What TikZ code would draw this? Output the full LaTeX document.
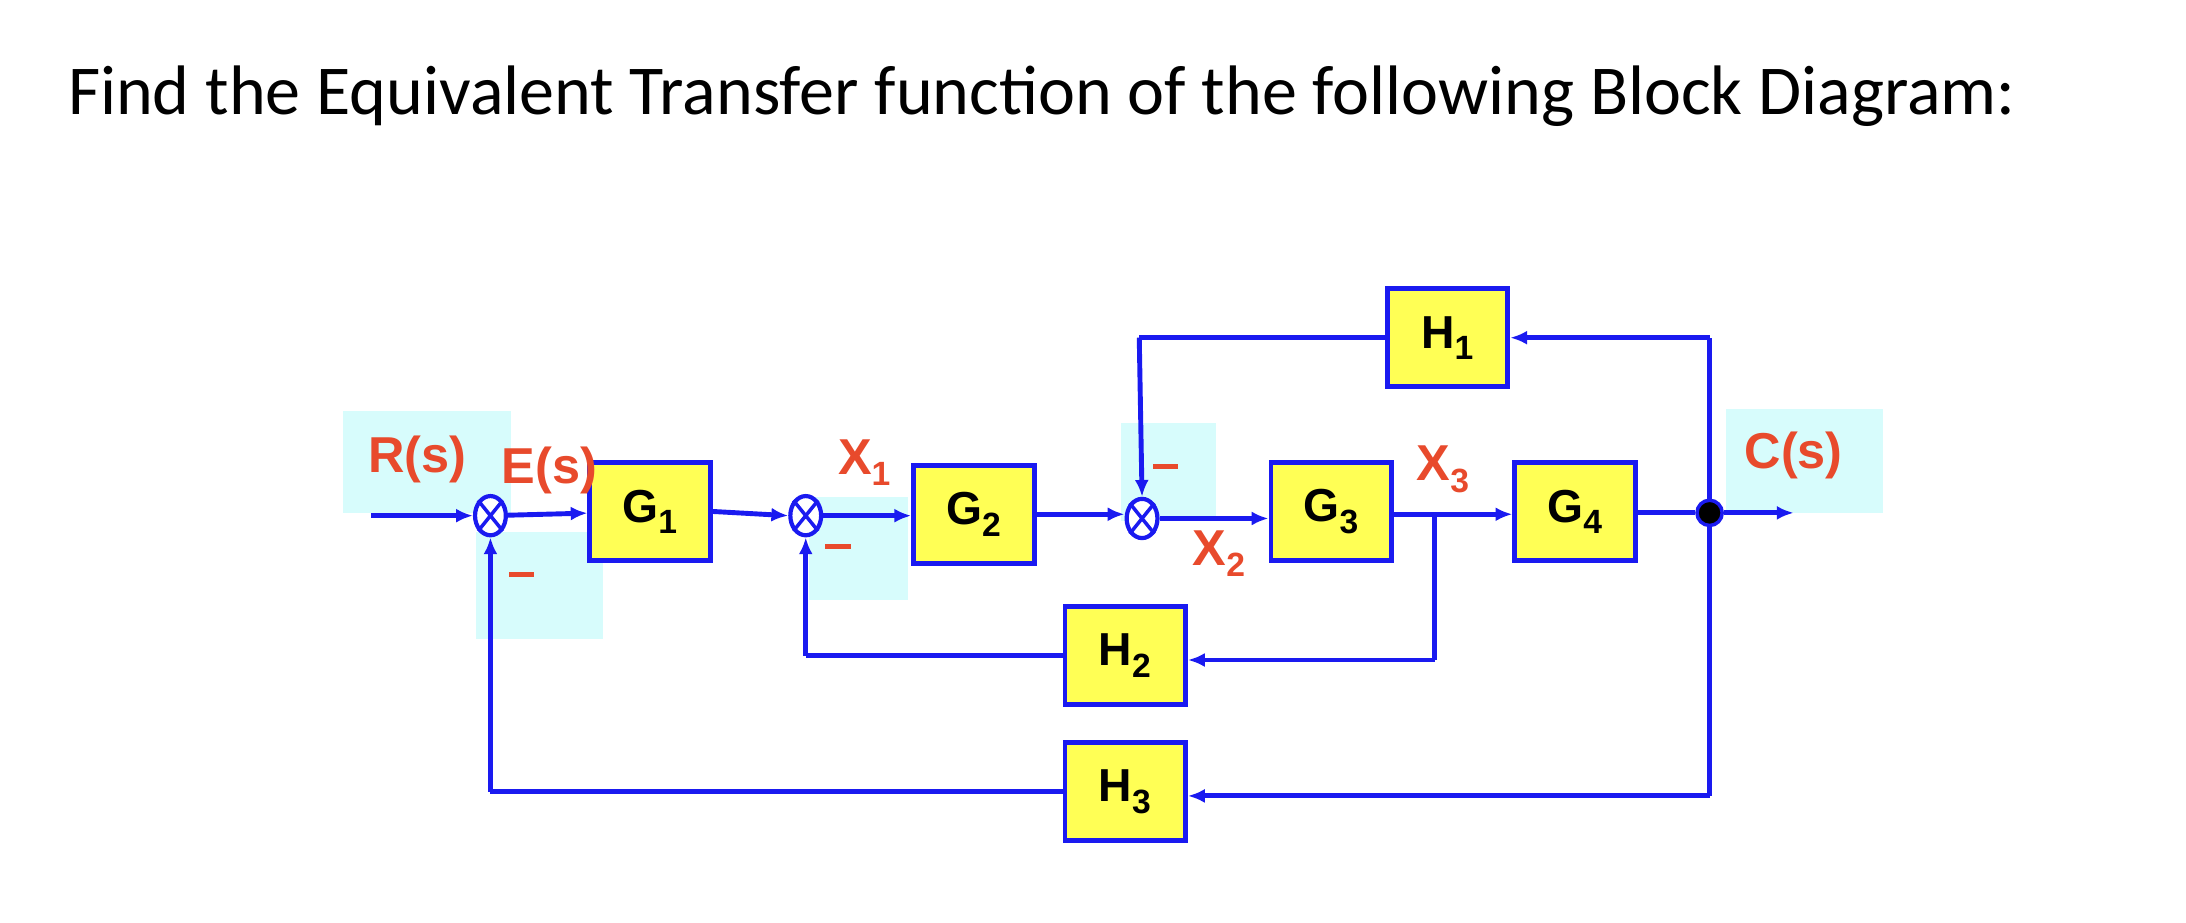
\documentclass[tikz,border=0pt]{standalone}
\usepackage{fontspec}
\setmainfont{Carlito}
\newfontfamily\arialf{Liberation Sans}
\usetikzlibrary{arrows.meta,shapes.geometric}
\definecolor{lb}{HTML}{1A1AF0}
\definecolor{yl}{HTML}{FFFF55}
\definecolor{cy}{HTML}{D7FCFC}
\definecolor{og}{HTML}{E84A2C}
\tikzset{
 blk/.style={draw=lb,line width=3.5pt,fill=yl,minimum width=86pt,minimum height=70pt,inner sep=0pt,font=\arialf\bfseries\fontsize{33}{33}\selectfont},
 sig/.style={og,font=\arialf\bfseries\fontsize{36}{36}\selectfont},
 ln/.style={lb,line width=3.5pt},
 ar/.style={ln,-{Latex[length=12pt,width=10pt]}},
 sumj/.style={draw=lb,line width=3pt,fill=white,ellipse,minimum width=22pt,minimum height=28pt,inner sep=0pt},
 minus/.style={fill=og,minimum width=18pt,minimum height=3.5pt,inner sep=0pt}
}
\newcommand{\sumx}[1]{\draw[lb,line width=2.5pt] (#1.north west)--(#1.south east) (#1.north east)--(#1.south west);}
\newcommand{\sbs}[1]{$_{\hbox{\fontsize{24}{24}\selectfont #1}}$}
\begin{document}
\begin{tikzpicture}[x=1pt,y=-1pt]
\useasboundingbox (0,0) rectangle (1560,658);
\node[anchor=base west,font=\fontsize{50}{50}\selectfont] (title) at (45,82) {Find the Equivalent Transfer function of the following Block Diagram:};
% highlights
\fill[cy] (245,293) rectangle (365,366);
\fill[cy] (340,380) rectangle (430,456);
\fill[cy] (577,355) rectangle (648,428);
\fill[cy] (800,302) rectangle (868,372);
\fill[cy] (1232,292) rectangle (1344,366);
% blocks
\node[blk] (G1) at (464,365) {G\sbs{1}};
\node[blk] (G2) at (695,367) {G\sbs{2}};
\node[blk] (G3) at (950,365) {G\sbs{3}};
\node[blk] (G4) at (1124,365) {G\sbs{4}};
\node[blk] (H1) at (1033,241) {H\sbs{1}};
\node[blk] (H2) at (803,468) {H\sbs{2}};
\node[blk] (H3) at (803,565) {H\sbs{3}};
% sums
\node[sumj] (S1) at (350,368) {};
\node[sumj] (S2) at (575,368) {};
\node[sumj] (S3) at (815,370) {};
\sumx{S1}\sumx{S2}\sumx{S3}
\coordinate (in) at (265,368);
\coordinate (out) at (1280,366);
\node[circle,fill=black,draw=lb,line width=2.5pt,minimum size=18pt,inner sep=0pt] (J) at (1220,366) {};
\coordinate (b3) at (1024,367);
% forward
\draw[ar] (in) -- (S1);
\draw[ar] (S1) -- (G1);
\draw[ar] (G1.east) -- (S2.west);
\draw[ar] (S2) -- (G2.west|-S2);
\draw[ar] (G2) -- (S3.west|-G2);
\draw[ar] (S3) -- (G3.west|-S3);
\draw[ar] (G3.east|-b3) -- (G4.west|-b3);
\draw[ln] (G4.east|-J) -- (J);
\draw[ar] (J) -- (out);
% feedback H1
\coordinate (h1r) at (1220,241);
\coordinate (h1l) at (813,241);
\draw[ln] (J) -- (h1r);
\draw[ar] (h1r) -- (H1.east);
\draw[ln] (H1.west) -- (h1l);
\draw[ar] (h1l) -- (S3.north);
% H2
\coordinate (b3d) at (1024,471);
\coordinate (h2l) at (575,468);
\draw[ln] (b3) -- (b3d);
\draw[ar] (b3d) -- (H2.east|-b3d);
\draw[ln] (H2.west) -- (h2l);
\draw[ar] (h2l) -- (S2.south);
% H3
\coordinate (jd) at (1220,568);
\coordinate (h3l) at (350,565);
\draw[ln] (J) -- (jd);
\draw[ar] (jd) -- (H3.east|-jd);
\draw[ln] (H3.west) -- (h3l);
\draw[ar] (h3l) -- (S1.south);
% labels
\node[sig] (lR) at (298,328) {R(s)};
\node[sig] (lE) at (392,336) {E(s)};
\node[sig] (lX1) at (617,330) {X\sbs{1}};
\node[sig] (lX2) at (870,395) {X\sbs{2}};
\node[sig] (lX3) at (1030,335) {X\sbs{3}};
\node[sig] (lC) at (1280,325) {C(s)};
\node[minus] (m1) at (372,410) {};
\node[minus] (m2) at (598,390) {};
\node[minus] (m3) at (832,333) {};
\end{tikzpicture}
\end{document}
